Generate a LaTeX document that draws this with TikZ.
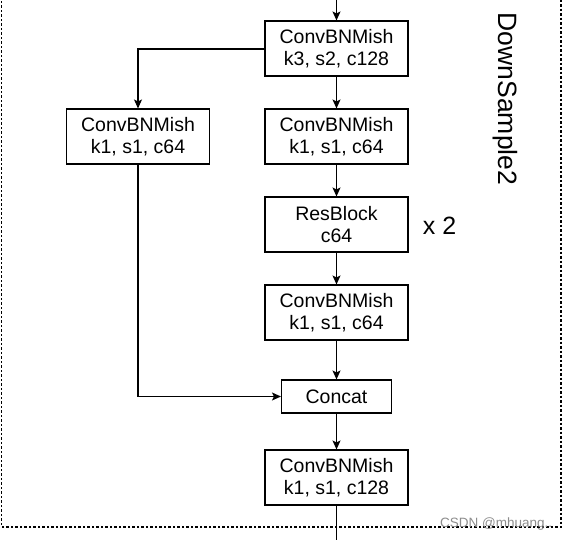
\documentclass[tikz,border=0pt]{standalone}
\usepackage{fontspec}
\setmainfont{Liberation Sans}
\usetikzlibrary{arrows.meta}
\begin{document}
\begin{tikzpicture}[x=1pt,y=-1pt,
  box/.style={draw, line width=1.1pt, rectangle, minimum width=143pt, minimum height=55pt, inner sep=0pt, align=center, font=\fontsize{19.5}{22.5}\selectfont},
  cbox/.style={box, minimum width=110pt, minimum height=33pt},
  conn/.style={line width=1.1pt},
  arr/.style={conn, -{Stealth[length=9pt,width=8pt,inset=2pt]}},
  frame/.style={line width=1.1pt, dash pattern=on 2.5pt off 2pt}]
\useasboundingbox (0,0) rectangle (563,539);
\draw[frame] (561,-5) -- (561,527) -- (1.5,527) -- (1.5,-5);
\node[box] (top) at (336.5,48.5) {ConvBNMish\\k3, s2, c128};
\node[box] (left) at (138,136.5) {ConvBNMish\\k1, s1, c64};
\node[box] (b2) at (336.5,136.5) {ConvBNMish\\k1, s1, c64};
\node[box] (res) at (336.5,224.5) {ResBlock\\c64};
\node[box] (b3) at (336.5,312.5) {ConvBNMish\\k1, s1, c64};
\node[cbox] (cat) at (336.5,396.5) {Concat};
\node[box] (b5) at (336.5,477.5) {ConvBNMish\\k1, s1, c128};
\node[font=\fontsize{25}{30}\selectfont, inner sep=0pt] (rep) at (439.5,226) {x 2};
\node[font=\fontsize{26.5}{30}\selectfont, rotate=-90, inner sep=0pt] (lbl) at (505,99) {DownSample2};
\node[font=\fontsize{13.5}{16}\selectfont, text=black!45, anchor=base west, inner sep=0pt] (wm) at (440,527) {CSDN @mhuang..};
\coordinate (in) at (336.5,-5);
\coordinate (out) at (336.5,545);
\draw[arr] (in) -- (top.north);
\draw[arr] (top.west |- 0,49) -| (left.north);
\draw[arr] (top) -- (b2);
\draw[arr] (b2) -- (res);
\draw[arr] (res) -- (b3);
\draw[arr] (b3) -- (cat);
\draw[arr] (left.south) |- (cat.west);
\draw[arr] (cat) -- (b5);
\draw[conn] (b5.south) -- (out);
\end{tikzpicture}
\end{document}
